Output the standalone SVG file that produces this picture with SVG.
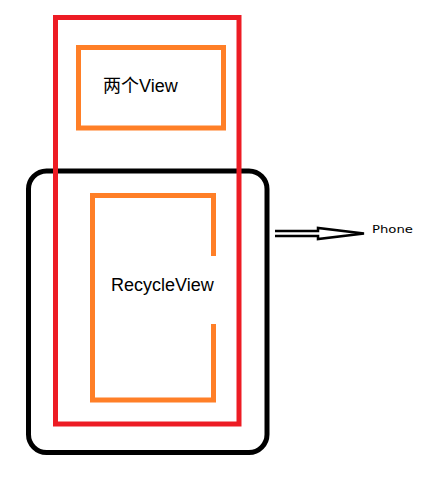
<svg xmlns="http://www.w3.org/2000/svg" width="422" height="479" viewBox="0 0 422 479">
<style>
.red{fill:none;stroke:#ed1c24;stroke-width:5}
.org{fill:none;stroke:#ff7f27;stroke-width:5}
.blk{fill:none;stroke:#000;stroke-width:5}
.lbl{font-family:"Liberation Sans","Noto Sans CJK SC",sans-serif;font-size:18px;fill:#000}
.sm{font-family:"DejaVu Sans",sans-serif;font-size:10px;fill:#000}
</style>
<rect width="422" height="479" fill="#fff"/>
<g id="phone">
<rect class="blk" x="28.5" y="171" width="238.5" height="281.5" rx="18"/>
</g>
<g id="container">
<rect class="red" x="55.5" y="17.5" width="183.5" height="406.5"/>
</g>
<g id="two-views">
<rect class="org" x="78.5" y="47.5" width="145" height="80.5"/>
<text class="lbl" x="103" y="92">两个View</text>
</g>
<g id="recycleview">
<path class="org" d="M213.5,256 V195.5 H92.5 V400 H213.5 V324"/>
<text class="lbl" x="111" y="291">RecycleView</text>
</g>
<g id="connectors">
<polyline fill="none" stroke="#000" stroke-width="2.5" stroke-linejoin="miter" points="275,231 318,231 318,228 364,233.5 318,239 318,236 275,236"/>
</g>
<g id="phone-label">
<text class="sm" x="372" y="232.5" textLength="41" lengthAdjust="spacingAndGlyphs">Phone</text>
</g>
</svg>
